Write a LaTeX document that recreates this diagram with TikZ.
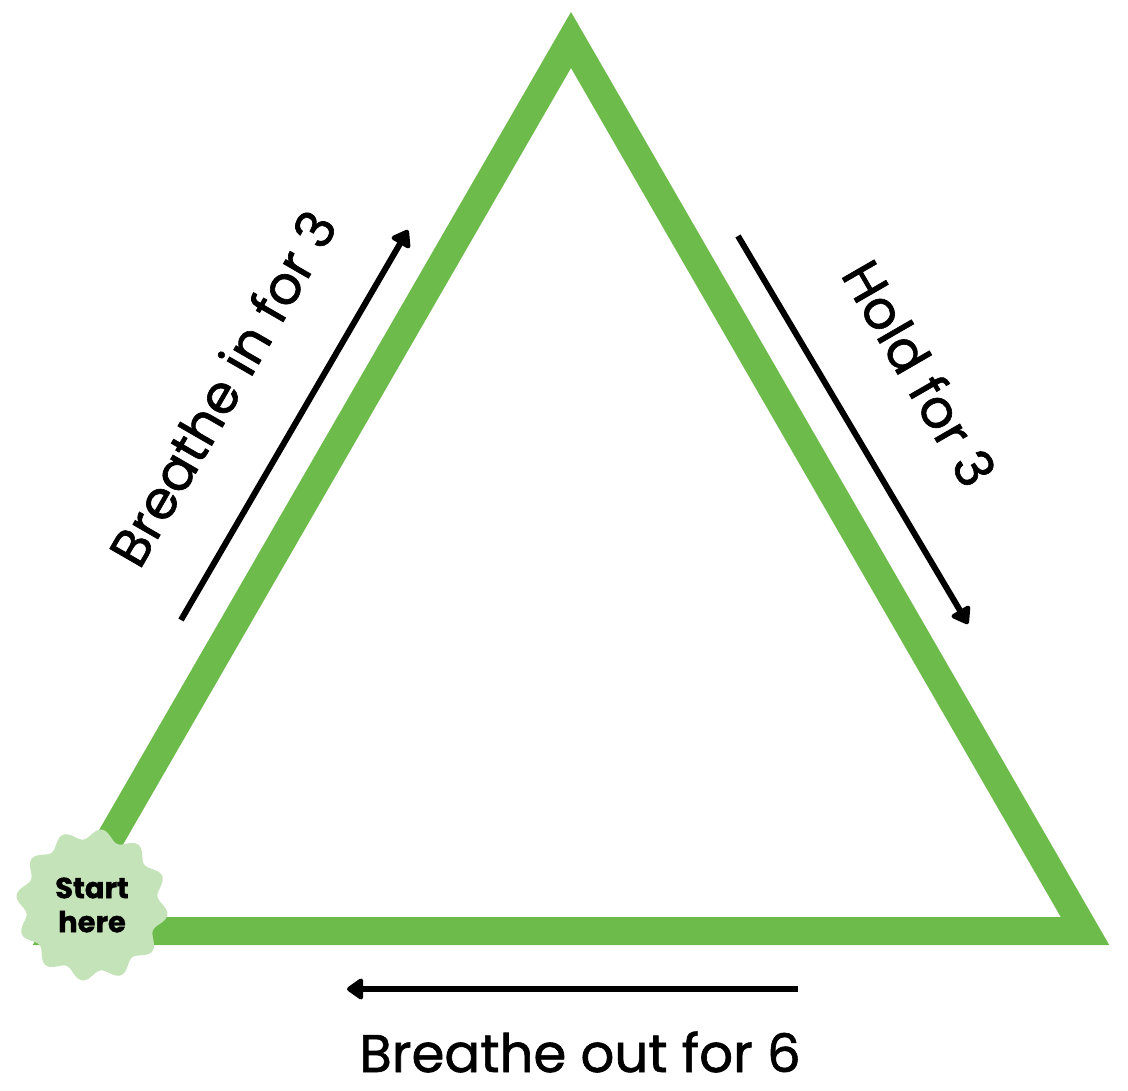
\documentclass[tikz,border=0pt]{standalone}
\usepackage{fontspec}
\setmainfont{Poppins}[FakeBold=1.2]
\usetikzlibrary{arrows.meta}
\definecolor{tri}{HTML}{6CBB4B}
\definecolor{badge}{HTML}{C5E3B8}
\tikzset{
  arr/.style={line width=6pt,-{Triangle[length=18pt,width=24pt,round]}},
  lbl/.style={font=\fontsize{53}{58}\selectfont},
}
\begin{document}
\begin{tikzpicture}[x=1pt,y=-1pt]
\useasboundingbox (0,0) rectangle (1128,1091);
\coordinate (A) at (571,40);
\coordinate (L) at (57,931);
\coordinate (R) at (1085,931);
\draw[tri,line width=28pt,miter limit=10] (A) -- (R) -- (L) -- cycle;
\fill[badge] plot[domain=0:360,samples=241,smooth] ({92+71*cos(\x)+5*cos(\x)*sin(12*\x)},{905+71*sin(\x)+5*sin(\x)*sin(12*\x)}) -- cycle;
\node[font=\bfseries\fontsize{29}{34}\selectfont,align=center] (s) at (92,905) {Start\\here};
\coordinate (b1) at (181,620); \coordinate (b2) at (408,230);
\coordinate (h1) at (738,236); \coordinate (h2) at (968,624);
\coordinate (o1) at (798,989); \coordinate (o2) at (347,989);
\draw[arr] (b1) -- (b2);
\draw[arr] (h1) -- (h2);
\draw[arr] (o1) -- (o2);
\node[lbl,rotate=60] (tb) at (222,388) {Breathe in for 3};
\node[lbl,rotate=-60] (th) at (920,373) {Hold for 3};
\node[lbl] (to) at (580,1052) {Breathe out for 6};
\end{tikzpicture}
\end{document}
